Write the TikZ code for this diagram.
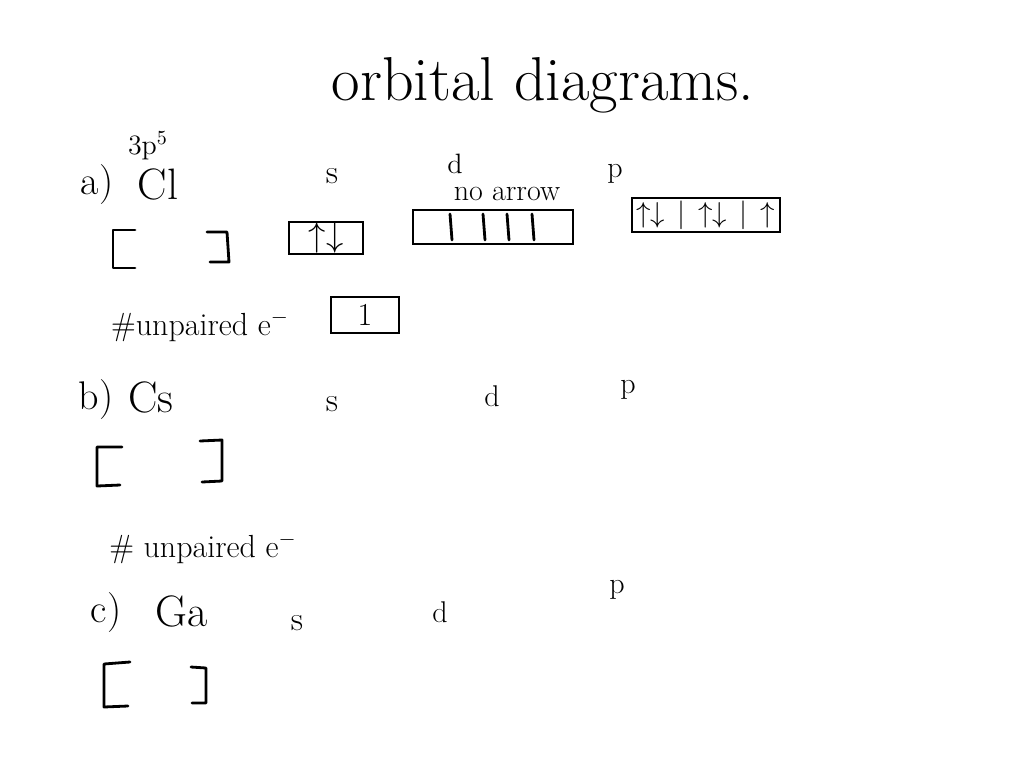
\documentclass[tikz,border=0pt]{standalone}
\usepackage{amssymb}
\usetikzlibrary{calc}

\begin{document}
\begin{tikzpicture}[x=0.5pt, y=-0.5pt]
                \tikzstyle{hand} = [line width=1.4pt, line cap=round, line join=round]
                \tikzstyle{word} = [inner sep=0pt, font={\fontsize{#1}{#1}\selectfont}]
                \tikzstyle{orb} = [draw, line width=1.4pt, inner sep=0pt, minimum width={#1}]
                \useasboundingbox (0, 0) rectangle (1024, 768);
                % title
                \node[word=31] (title) at (543, 85) {orbital diagrams.};
                % a) Cl
                \node[word=20] (alab) at (97, 185) {a)};
                \node[word=22] (cl) at (158, 184) {Cl};
                \node[word=14] (cfg) at (148, 146) {3p$^5$};
                \node[word=17] (as) at (332, 176) {s};
                \node[word=14] (ad) at (455, 164) {d};
                \node[word=15] (noarrow) at (507, 194) {no arrow};
                \node[word=15] (ap) at (615, 174) {p};
                \draw[hand] (135, 230) -- (113, 230) -- (113, 268) -- (135, 268);
                \draw[hand] (207, 232) -- (227, 232) -- (229, 262) -- (210, 262);
                \node[orb=37pt, minimum height=16pt, word=16] (sbox) at (326, 238) {$\uparrow\downarrow$};
                \node[orb=80pt, minimum height=17pt] (dbox) at (493, 227) {};
                \foreach \x in {450, 483, 507, 532}
                    \draw[hand] (\x, 214) -- (\x + 2, 240);
                \node[orb=74pt, minimum height=17pt] (pbox) at (706, 215) {};
                \node[word=15, anchor=west] (pfill) at (pbox.west) {\,$\uparrow\downarrow\,|\,\uparrow\downarrow\,|\,\uparrow$};
                \node[word=16] (aunp) at (200, 326) {\#unpaired e$^-$};
                \node[orb=34pt, minimum height=18pt, word=16] (abox) at (365, 315) {1};
                % b) Cs
                \node[word=20] (blab) at (96, 400) {b)};
                \node[word=22] (cs) at (151, 397) {Cs};
                \node[word=17] (bs) at (332, 404) {s};
                \node[word=15] (bd) at (492, 396) {d};
                \node[word=15] (bp) at (628, 390) {p};
                \draw[hand] (122, 447) -- (97, 447) -- (97, 486) -- (120, 485);
                \draw[hand] (200, 441) -- (222, 440) -- (222, 481) -- (202, 482);
                \node[word=16] (bunp) at (203, 548) {\# unpaired e$^-$};
                % c) Ga
                \node[word=20] (clab) at (106, 613) {c)};
                \node[word=22] (ga) at (182, 611) {Ga};
                \node[word=17] (cs2) at (297, 623) {s};
                \node[word=15] (cd) at (440, 612) {d};
                \node[word=15] (cp) at (617, 590) {p};
                \draw[hand] (130, 662) -- (104, 664) -- (104, 707) -- (128, 706);
                \draw[hand] (191, 667) -- (206, 668) -- (206, 703) -- (192, 703);
\end{tikzpicture}
\end{document}
